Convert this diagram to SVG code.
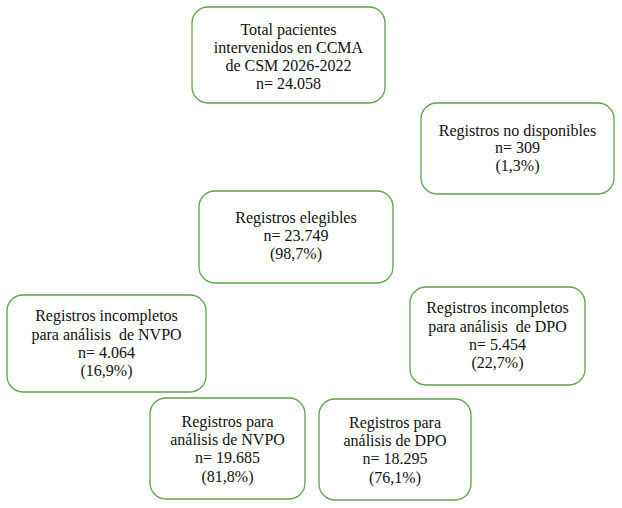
<svg xmlns="http://www.w3.org/2000/svg" width="622" height="508" viewBox="0 0 622 508">
<style>
.box{fill:#ffffff;stroke:#5fa24a;stroke-width:1.3}
text{font-family:"Liberation Serif","Times New Roman",serif;font-size:16px;fill:#111;text-anchor:middle}
</style>
<rect width="622" height="508" fill="#ffffff"/>
<g id="connectors"></g>
<g id="total">
<rect class="box" x="192" y="7" width="193" height="96" rx="16"/>
<text x="288.5" y="35">Total pacientes</text>
<text x="288.5" y="53">intervenidos en CCMA</text>
<text x="288.5" y="71">de CSM 2026-2022</text>
<text x="288.5" y="89">n= 24.058</text>
</g>
<g id="no-disponibles">
<rect class="box" x="421" y="103" width="193" height="91" rx="16"/>
<text x="517.5" y="136">Registros no disponibles</text>
<text x="517.5" y="153">n= 309</text>
<text x="517.5" y="171">(1,3%)</text>
</g>
<g id="elegibles">
<rect class="box" x="199" y="191" width="194" height="92" rx="16"/>
<text x="296" y="223">Registros elegibles</text>
<text x="296" y="241">n= 23.749</text>
<text x="296" y="259">(98,7%)</text>
</g>
<g id="incompletos-nvpo">
<rect class="box" x="7" y="295" width="199" height="97" rx="16"/>
<text x="106.5" y="321">Registros incompletos</text>
<text x="106.5" y="340" xml:space="preserve">para análisis  de NVPO</text>
<text x="106.5" y="358">n= 4.064</text>
<text x="106.5" y="376">(16,9%)</text>
</g>
<g id="incompletos-dpo">
<rect class="box" x="410" y="287" width="175" height="98" rx="16"/>
<text x="497.5" y="313">Registros incompletos</text>
<text x="497.5" y="332" xml:space="preserve">para análisis  de DPO</text>
<text x="497.5" y="350">n= 5.454</text>
<text x="497.5" y="368">(22,7%)</text>
</g>
<g id="analisis-nvpo">
<rect class="box" x="150" y="398" width="155" height="101" rx="16"/>
<text x="227.5" y="427">Registros para</text>
<text x="227.5" y="445">análisis de NVPO</text>
<text x="227.5" y="463">n= 19.685</text>
<text x="227.5" y="482">(81,8%)</text>
</g>
<g id="analisis-dpo">
<rect class="box" x="319" y="399" width="152" height="101" rx="16"/>
<text x="395" y="428">Registros para</text>
<text x="395" y="446">análisis de DPO</text>
<text x="395" y="464">n= 18.295</text>
<text x="395" y="483">(76,1%)</text>
</g>
</svg>
